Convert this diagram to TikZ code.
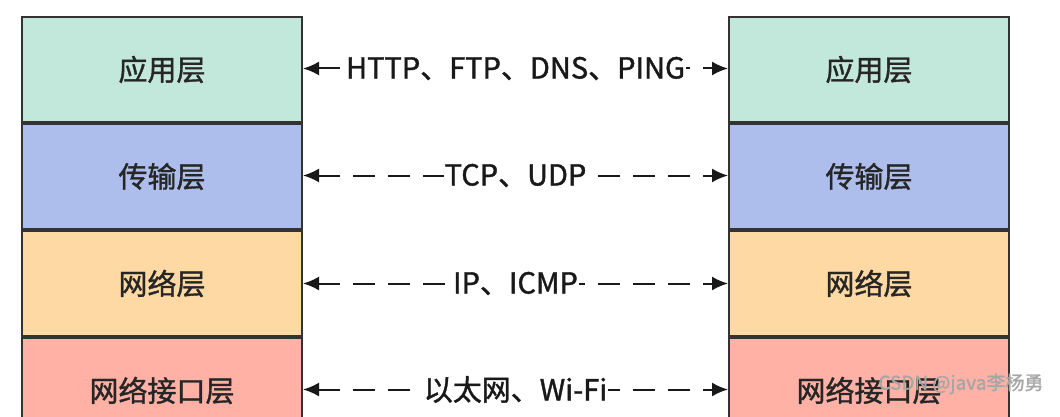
\documentclass[tikz,border=0pt]{standalone}
\usepackage{fontspec}
\setmainfont{Noto Sans CJK SC}[UprightFeatures={FakeBold=1.3}]
\usetikzlibrary{arrows.meta}
\definecolor{appc}{RGB}{194,232,220}
\definecolor{tranc}{RGB}{174,190,236}
\definecolor{netc}{RGB}{255,217,164}
\definecolor{ifc}{RGB}{255,177,166}
\definecolor{edgec}{RGB}{51,51,51}
\tikzset{
  layer/.style={draw=edgec, line width=2pt, minimum width=280pt, minimum height=105pt, inner sep=0pt, font=\fontsize{29}{32}\selectfont, text=black!85},
  proto/.style={line width=2pt, draw=black!90, {Latex[length=16pt,width=14pt]}-{Latex[length=16pt,width=14pt]}},
  dsh/.style={dash pattern=on 22pt off 13pt},
  plabel/.style={fill=white, inner sep=1pt, font=\fontsize{29}{32}\selectfont, text=black!90},
}
\begin{document}
\begin{tikzpicture}[x=1pt,y=-1pt]
\useasboundingbox (0,0) rectangle (1060,417);
\fill[white] (0,0) rectangle (1060,417);
\node[layer, fill=appc, anchor=north west] (la) at (21,16) {\raisebox{-2pt}{应用层}};
\node[layer, fill=tranc, anchor=north] (lt) at (la.south) {\raisebox{-2pt}{传输层}};
\node[layer, fill=netc, anchor=north] (ln) at (lt.south) {\raisebox{-2pt}{网络层}};
\node[layer, fill=ifc, anchor=north] (li) at (ln.south) {\raisebox{-2pt}{网络接口层}};
\node[layer, fill=appc, anchor=north west] (ra) at (728,16) {\raisebox{-2pt}{应用层}};
\node[layer, fill=tranc, anchor=north] (rt) at (ra.south) {\raisebox{-2pt}{传输层}};
\node[layer, fill=netc, anchor=north] (rn) at (rt.south) {\raisebox{-2pt}{网络层}};
\node[layer, fill=ifc, anchor=north] (ri) at (rn.south) {\raisebox{-2pt}{网络接口层}};
\draw[proto, dsh] ([yshift=1pt]la.east) -- node[plabel]{HTTP、FTP、DNS、PING} ([yshift=1pt]ra.west);
\draw[proto, dsh] ([yshift=1pt]lt.east) -- node[plabel]{TCP、UDP} ([yshift=1pt]rt.west);
\draw[proto, dsh] ([yshift=0pt]ln.east) -- node[plabel]{IP、ICMP} ([yshift=0pt]rn.west);
\draw[proto, dsh] ([yshift=1pt]li.east) -- node[plabel]{以太网、Wi-Fi} ([yshift=1pt]ri.west);
\node[font=\fontsize{19}{22}\selectfont, text=black!35, anchor=east] (wm) at (1047,384) {CSDN @java李杨勇};
\end{tikzpicture}
\end{document}
